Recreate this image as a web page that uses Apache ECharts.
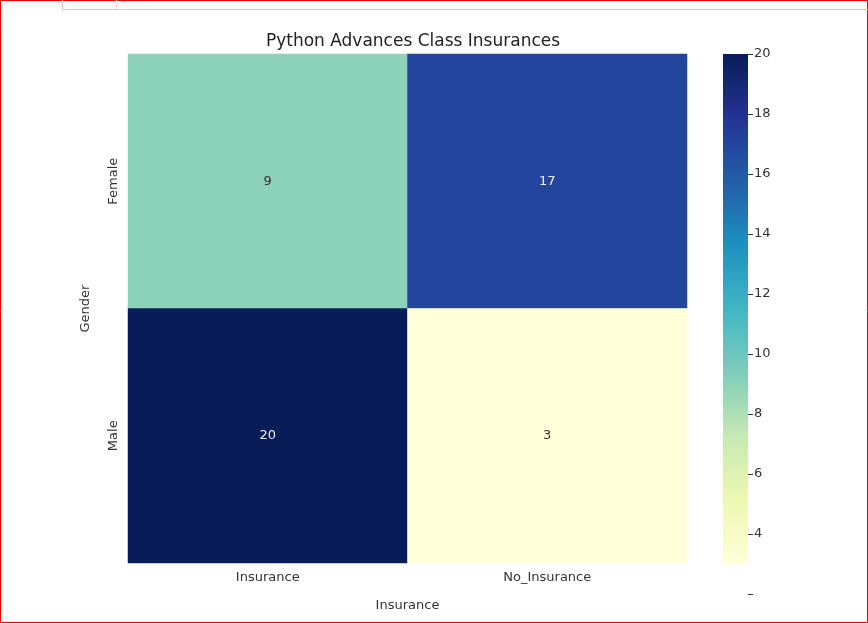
<!DOCTYPE html>
<html>
<head>
<meta charset="utf-8">
<script src="https://cdn.jsdelivr.net/npm/echarts@6/dist/echarts.min.js"></script>
<style>html,body{margin:0;padding:0;background:#fff}#chart{width:868px;height:623px}</style>
</head>
<body>
<div id="chart"></div>
<script>
// data
const xCats = ['Insurance', 'No_Insurance'];
const yCats = ['Male', 'Female'];
// [xIndex, yIndex, value]
const cells = [[0, 1, 9], [1, 1, 17], [0, 0, 20], [1, 0, 3]];
const vMin = 3, vMax = 20;
const cbTicks = [2, 4, 6, 8, 10, 12, 14, 16, 18, 20];

const ylgnbu = ['#ffffd9', '#edf8b1', '#c7e9b4', '#7fcdbb', '#41b6c4', '#1d91c0', '#225ea8', '#253494', '#081d58'];
const font = 'DejaVu Sans';

const chart = echarts.init(document.getElementById('chart'));
chart.setOption({
    animation: false,
    backgroundColor: '#fff',
    textStyle: { fontFamily: font },
    title: {
        text: 'Python Advances Class Insurances', left: 408, top: 28, textAlign: 'center',
        textStyle: { fontSize: 17, fontWeight: 'normal', color: '#222', fontFamily: font }
    },
    graphic: [
        { type: 'rect', shape: { x: 0.5, y: 0.5, width: 867, height: 622 }, style: { fill: 'none', stroke: '#e00', lineWidth: 1 } },
        { type: 'line', shape: { x1: 62, y1: 9.5, x2: 868, y2: 9.5 }, style: { stroke: '#ccc', lineWidth: 1 } },
        { type: 'line', shape: { x1: 62.5, y1: 0, x2: 62.5, y2: 9 }, style: { stroke: '#ccc', lineWidth: 1 } },
        { type: 'line', shape: { x1: 116.5, y1: 0, x2: 116.5, y2: 9 }, style: { stroke: '#ddd', lineWidth: 1 } }
    ],
    grid: [
        { left: 128, right: 181, top: 54, bottom: 60 },
        { left: 723, width: 25, top: 54, height: 540 }
    ],
    xAxis: [
        {
            type: 'category', data: xCats, gridIndex: 0,
            name: 'Insurance', nameLocation: 'middle', nameGap: 36,
            nameTextStyle: { fontSize: 13, color: '#333' },
            axisLine: { show: false }, axisTick: { length: 5, lineStyle: { color: '#333' } },
            axisLabel: { fontSize: 13, color: '#333', margin: 8 }
        },
        { type: 'category', data: ['cb'], gridIndex: 1, show: false }
    ],
    yAxis: [
        {
            type: 'category', data: yCats, gridIndex: 0,
            name: 'Gender', nameLocation: 'middle', nameGap: 36,
            nameTextStyle: { fontSize: 13, color: '#333' },
            axisLine: { show: false }, axisTick: { length: 5, lineStyle: { color: '#333' } },
            axisLabel: { fontSize: 13, color: '#333', rotate: 90, margin: 8 }
        },
        {
            type: 'value', gridIndex: 1, position: 'right', min: 2, max: 20, interval: 2,
            axisLine: { show: false }, splitLine: { show: false },
            axisTick: { show: true, length: 5, lineStyle: { color: '#333' }, interval: 0 },
            axisLabel: { fontSize: 13, color: '#333', margin: 6, formatter: v => (cbTicks.indexOf(v) > 0 ? v : '') }
        }
    ],
    visualMap: {
        show: false, min: vMin, max: vMax, seriesIndex: 0, inRange: { color: ylgnbu }
    },
    series: [
        {
            type: 'heatmap', xAxisIndex: 0, yAxisIndex: 0,
            data: cells.map(c => ({
                value: c,
                label: { color: c[2] > 12 ? '#eee' : '#333' }
            })),
            label: { show: true, fontSize: 13 }
        },
        {
            type: 'custom', xAxisIndex: 1, yAxisIndex: 1, data: [[0, vMin, vMax]], silent: true,
            renderItem: (params, api) => {
                const top = api.coord([0, api.value(2)]);
                const bot = api.coord([0, api.value(1)]);
                const g = params.coordSys;
                return {
                    type: 'rect',
                    shape: { x: g.x, y: top[1], width: g.width, height: bot[1] - top[1] },
                    style: {
                        fill: new echarts.graphic.LinearGradient(0, 1, 0, 0,
                            ylgnbu.map((c, i) => ({ offset: i / (ylgnbu.length - 1), color: c })))
                    }
                };
            }
        }
    ]
});
</script>
</body>
</html>
